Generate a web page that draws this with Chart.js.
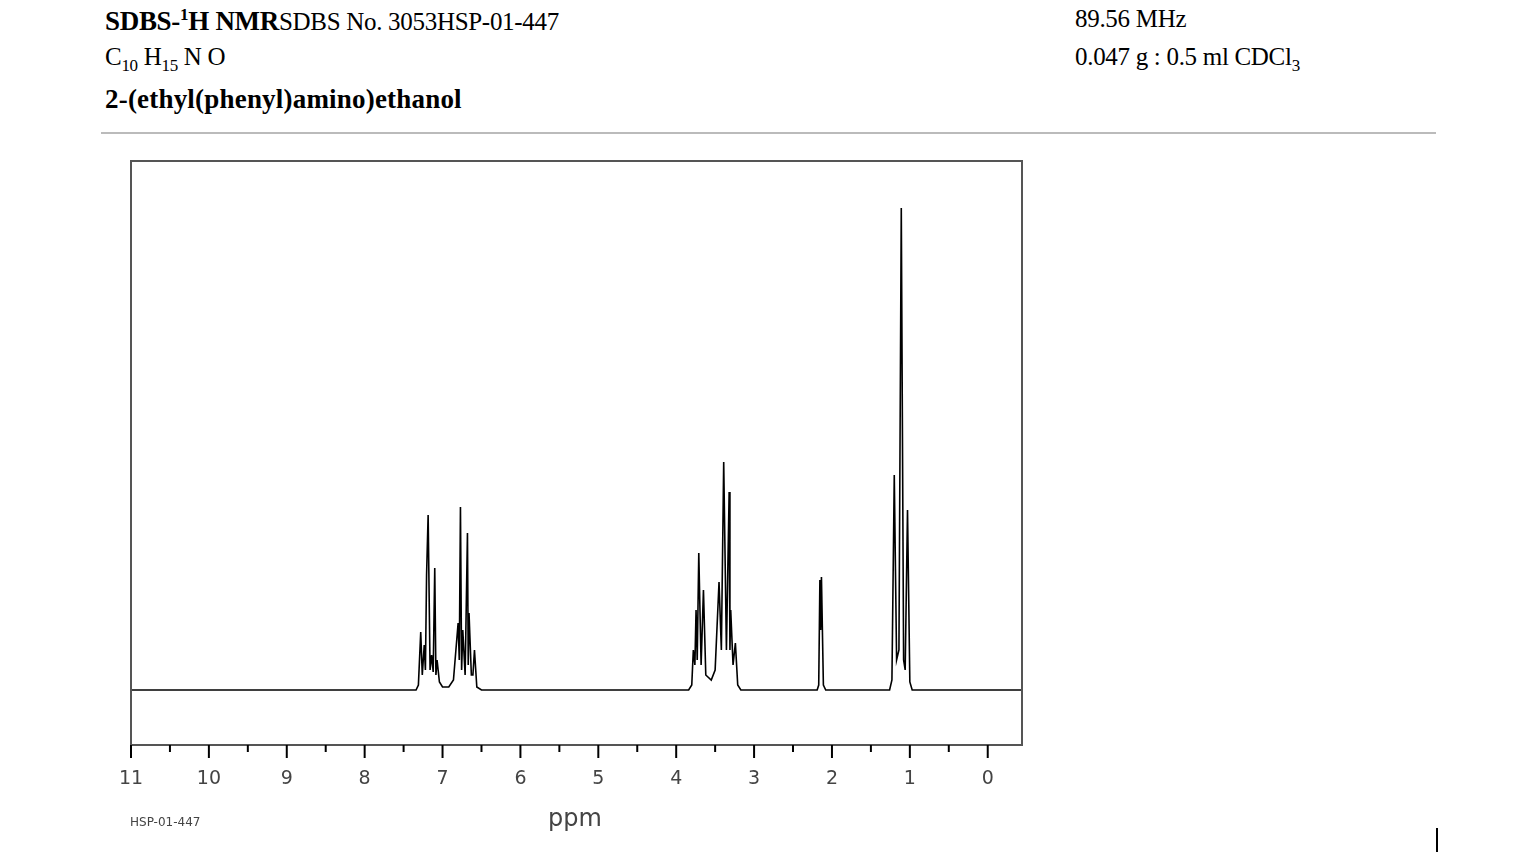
<!DOCTYPE html>
<html><head><meta charset="utf-8">
<script src="https://cdn.jsdelivr.net/npm/chart.js@4"></script>
<style>
body{margin:0;width:1526px;height:853px;background:#fff;position:relative;overflow:hidden;font-family:"Liberation Serif",serif;}
.t{position:absolute;white-space:nowrap;color:#000;font-size:25px;letter-spacing:-0.3px}
canvas{position:absolute;left:0;top:0;}
</style></head><body>
<div class="t" style="left:105px;top:5px;font-size:25px"><b style="font-size:27px">SDBS-<sup style="font-size:17px">1</sup>H NMR</b>SDBS No. 3053HSP-01-447</div>
<div class="t" style="left:105px;top:43px">C<sub style="font-size:17px">10</sub> H<sub style="font-size:17px">15</sub> N O</div>
<div class="t" style="left:105px;top:84px;font-size:27px;letter-spacing:0.2px"><b>2-(ethyl(phenyl)amino)ethanol</b></div>
<div class="t" style="left:1075px;top:5px">89.56 MHz</div>
<div class="t" style="left:1075px;top:43px">0.047 g : 0.5 ml CDCl<sub style="font-size:17px">3</sub></div>
<div style="position:absolute;left:101px;top:132px;width:1335px;height:2px;background:#bbb"></div>
<div style="position:absolute;left:1436px;top:828px;width:2px;height:24px;background:#000"></div>
<canvas id="c" width="1526" height="853"></canvas>
<script>
const peaks=[[7.28,58],[7.235,45],[7.205,115],[7.185,175],[7.14,35],[7.10,122],[7.07,30],
[6.80,67],[6.77,183],[6.74,60],[6.68,157],[6.66,77],[6.59,40],
[3.78,40],[3.745,80],[3.71,137],[3.65,100],[3.45,108],[3.39,228],[3.32,198],[3.30,80],[3.24,47],
[2.155,110],[2.135,113],[1.20,215],[1.11,482],[1.03,180]];
const valleys=[[11,0],[7.34,0],[7.31,5],[7.26,15],[7.22,20],[7.16,20],[7.12,18],[7.085,15],[7.04,8],[7.0,3],[6.92,3],[6.86,10],
[6.785,30],[6.755,20],[6.71,15],[6.67,25],[6.63,15],[6.61,15],[6.56,3],[6.5,0],
[3.84,0],[3.80,5],[3.76,25],[3.73,30],[3.68,25],[3.62,15],[3.55,10],[3.50,20],[3.42,40],[3.355,40],[3.31,40],[3.27,25],[3.21,5],[3.17,0],
[2.19,0],[2.17,5],[2.145,60],[2.11,5],[2.08,0],
[1.26,0],[1.23,10],[1.17,30],[1.14,40],[1.08,30],[1.06,20],[1.0,8],[0.97,0],[-0.44,0]];
const tickLabels=['11','10','9','8','7','6','5','4','3','2','1','0'];
const pts=peaks.concat(valleys).map(p=>({x:p[0],y:p[1]})).sort((a,b)=>b.x-a.x);
const axisPlugin={id:'ax',afterDraw(ch){
 const c=ch.ctx,a=ch.chartArea,xs=ch.scales.x;
 c.save();c.strokeStyle='#555';c.lineWidth=2;c.strokeRect(a.left,a.top,a.right-a.left,a.bottom-a.top);
 c.strokeStyle='#000';c.lineWidth=2;
 for(let i=0;i<=22;i++){const v=i/2,px=xs.getPixelForValue(v);c.beginPath();c.moveTo(px,a.bottom);c.lineTo(px,a.bottom+(i%2?7:13));c.stroke();}
 c.fillStyle='#444';c.font='19px "DejaVu Sans"';c.textAlign='center';c.textBaseline='middle';
 tickLabels.forEach(l=>c.fillText(l,xs.getPixelForValue(+l),a.bottom+34));
 c.font='24px "DejaVu Sans"';c.fillText('ppm',575,820);
 c.font='12px "DejaVu Sans"';c.textAlign='left';c.fillText('HSP-01-447',130,823);
 c.restore();}};
new Chart(document.getElementById('c'),{type:'line',
 data:{datasets:[{data:pts,borderColor:'#000',borderWidth:1.6,pointRadius:0,tension:0,fill:false}]},
 options:{responsive:false,animation:false,
  layout:{padding:{left:131,top:161,right:504,bottom:108}},
  plugins:{legend:{display:false},tooltip:{enabled:false}},
  scales:{x:{type:'linear',reverse:true,min:-0.44,max:11,display:false},
          y:{min:-55,max:529,display:false}}},
 plugins:[axisPlugin]});
</script></body></html>
